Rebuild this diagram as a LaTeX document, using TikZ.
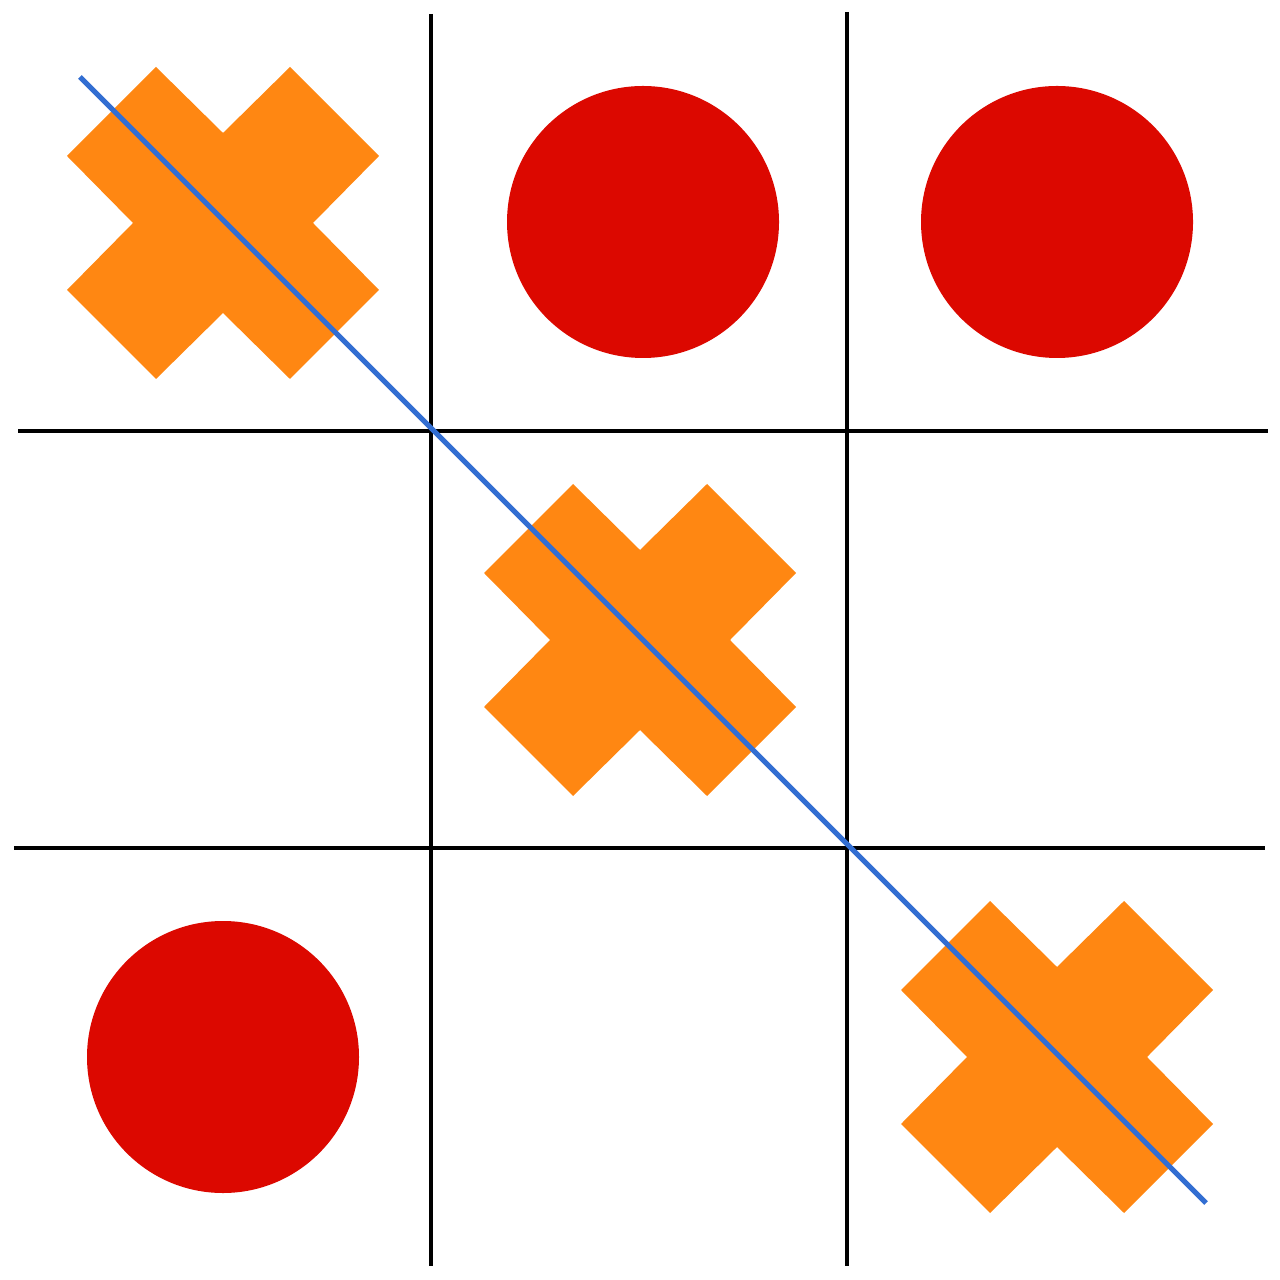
\documentclass[tikz,border=0pt]{standalone}
\definecolor{xorange}{RGB}{255,135,18}
\definecolor{ored}{RGB}{220,8,0}
\definecolor{winblue}{RGB}{50,110,210}
\tikzset{gridline/.style={line width=0.04cm, black}}
\begin{document}
\begin{tikzpicture}[x=0.01cm,y=-0.01cm]
\useasboundingbox (0,0) rectangle (1280,1280);
\fill[white] (0,0) rectangle (1280,1280);
\draw[gridline] (431,14) -- (431,1266);
\draw[gridline] (847,12) -- (847,1266);
\draw[gridline] (18,431) -- (1268,431);
\draw[gridline] (14,848) -- (1265,848);
\foreach \c in {(223,223),(640,640),(1057,1057)}{
 \fill[xorange, shift={\c}] (-67,-156) -- (0,-90) -- (67,-156) -- (156,-67) -- (90,0) -- (156,67) -- (67,156) -- (0,90) -- (-67,156) -- (-156,67) -- (-90,0) -- (-156,-67) -- cycle;
}
\foreach \c in {(643,222),(1057,222),(223,1057)}{
 \fill[ored] \c circle[radius=136];
}
\coordinate (s) at (80,77);
\coordinate (e) at (1206,1203);
\draw[winblue, line width=0.05cm] (s) -- (e);
\end{tikzpicture}
\end{document}
